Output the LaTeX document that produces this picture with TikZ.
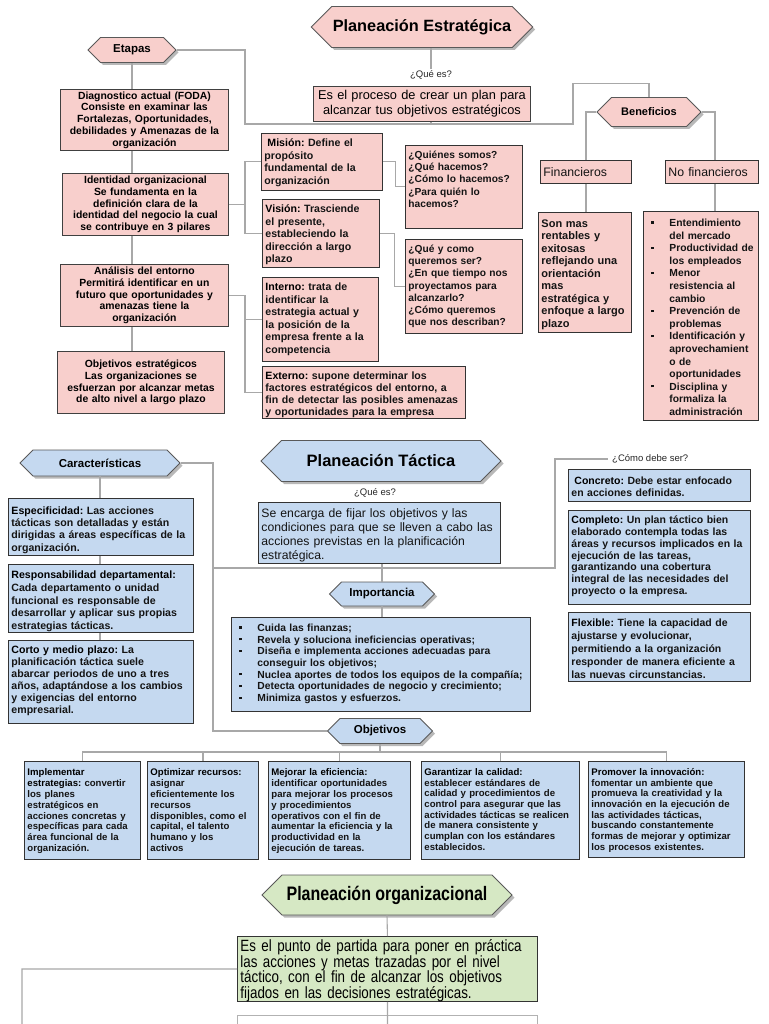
\documentclass[tikz,border=0pt]{standalone}
\usepackage{fontspec}
\setmainfont{Liberation Sans}
\newfontfamily\narrowfont[FakeStretch=0.82]{Liberation Sans}
\usetikzlibrary{shapes.symbols,shadows}
\definecolor{pinkc}{RGB}{248,207,204}
\definecolor{bluec}{RGB}{197,217,240}
\definecolor{greenc}{RGB}{214,232,196}
\definecolor{linkc}{RGB}{168,168,168}
\newcommand{\fsz}[2]{\fontsize{#1}{#2}\selectfont}
\newcommand{\bitem}{\makebox[23pt][l]{\hspace{5pt}\raisebox{2.8pt}{\rule{2.2pt}{2.2pt}}}}
\newcommand{\bcont}{\hspace*{23pt}}
\newcommand{\hdr}[1]{\textcolor{black}{#1}}
\frenchspacing
\tikzset{
  link/.style={draw=linkc, line width=1.1pt},
  hexa/.style={signal, signal to=west and east, draw=black!65, line width=0.8pt, inner sep=1pt, drop shadow={shadow xshift=2.5pt, shadow yshift=-2.5pt, fill=black!55}, font=\bfseries\fsz{11.5}{13}},
  cbox/.style={draw=black!75, line width=0.9pt, anchor=north west, align=center, inner xsep=2pt, inner ysep=1pt, text=black, font=\bfseries\fsz{10.4}{11.8}},
  lbox/.style={draw=black!80, line width=0.9pt, anchor=north west, align=left, inner xsep=3pt, inner ysep=2pt, text height=11pt, text=black!92, font=\bfseries\fsz{10.6}{12.6}},
  qlab/.style={inner sep=1pt, text=black!85, font=\fsz{9.5}{11}}
}
\begin{document}
\begin{tikzpicture}[x=1pt,y=-1pt]
\clip (0,0) rectangle (768,1024); \fill[white] (0,0) rectangle (768,1024);

\node[hexa, fill=pinkc, minimum width=216pt, minimum height=41pt, font=\bfseries\fsz{16.3}{18}] (tEst) at (422,27) {Planeación Estratégica};
\node[qlab] (qEs1) at (431,75) {¿Qué es?};
\node[cbox, fill=pinkc, text width=213pt, minimum height=35pt, font=\fsz{12.8}{15}] (defEst) at (313,86) {Es el proceso de crear un plan para\\alcanzar tus objetivos estratégicos};
\coordinate (bus1) at (245,124); \coordinate (bus2) at (573,124);

\node[hexa, fill=pinkc, minimum width=88pt, minimum height=25pt] (etapas) at (132,50) {Etapas};
\node[cbox, fill=pinkc, text width=164pt, minimum height=61pt] (diag) at (60,89) {Diagnostico actual (FODA)\\Consiste en examinar las\\Fortalezas, Oportunidades,\\debilidades y Amenazas de la\\organización};
\node[cbox, fill=pinkc, text width=162pt, minimum height=62pt] (iden) at (62,173) {Identidad organizacional\\Se fundamenta en la\\definición clara de la\\identidad del negocio la cual\\se contribuye en 3 pilares};
\node[cbox, fill=pinkc, text width=164pt, minimum height=62pt] (anal) at (60,264) {Análisis del entorno\\Permitirá identificar en un\\futuro que oportunidades y\\amenazas tiene la\\organización};
\node[cbox, fill=pinkc, text width=163pt, minimum height=62pt] (objE) at (57,351) {Objetivos estratégicos\\Las organizaciones se\\esfuerzan por alcanzar metas\\de alto nivel a largo plazo};

\node[lbox, fill=pinkc, text width=115pt, text depth=42pt] (mision) at (261,133) {\hspace*{3pt}\hdr{Misión:} Define el\\propósito\\fundamental de la\\organización};
\node[lbox, fill=pinkc, text width=111pt, text depth=53pt] (vision) at (262,199) {\hdr{Visión:} Trasciende\\el presente,\\estableciendo la\\dirección a largo\\plazo};
\node[lbox, fill=pinkc, text width=110pt, text depth=69pt] (interno) at (262,277) {\hdr{Interno:} trata de\\identificar la\\estrategia actual y\\la posición de la\\empresa frente a la\\competencia};
\node[lbox, fill=pinkc, text width=197pt, text depth=37pt, font=\bfseries\fsz{10.6}{12}] (externo) at (262,366) {\hdr{Externo:} supone determinar los\\factores estratégicos del entorno, a\\fin de detectar las posibles amenazas\\y oportunidades para la empresa};
\node[lbox, fill=pinkc, text width=111pt, text depth=68pt, font=\bfseries\fsz{10.2}{12.2}] (q1) at (405,145) {¿Quiénes somos?\\¿Qué hacemos?\\¿Cómo lo hacemos?\\¿Para quién lo\\hacemos?};
\node[lbox, fill=pinkc, text width=111pt, text depth=79pt, font=\bfseries\fsz{10.2}{12.2}] (q2) at (405,239) {¿Qué y como\\queremos ser?\\¿En que tiempo nos\\proyectamos para\\alcanzarlo?\\¿Cómo queremos\\que nos describan?};

\node[hexa, fill=pinkc, minimum width=104pt, minimum height=29pt, font=\bfseries\fsz{11}{13}] (benef) at (649,112) {Beneficios};
\node[lbox, fill=pinkc, text width=85pt, text height=14pt, text depth=5pt, font=\fsz{12.3}{14}] (fin) at (540,160) {Financieros};
\node[lbox, fill=pinkc, text width=87pt, text height=14pt, text depth=5pt, font=\fsz{12.3}{14}] (nofin) at (665,160) {No financieros};
\node[lbox, fill=pinkc, text width=87pt, text height=13pt, text depth=103pt, font=\bfseries\fsz{11}{12.5}] (sonmas) at (538,212) {Son mas\\rentables y\\exitosas\\reflejando una\\orientación\\mas\\estratégica y\\enfoque a largo\\plazo};
\node[lbox, fill=pinkc, text width=109pt, text height=13pt, text depth=192pt, font=\bfseries\fsz{10.3}{12.6}] (nofinlist) at (643,211) {\bitem Entendimiento\\\bcont del mercado\\\bitem Productividad de\\\bcont los empleados\\\bitem Menor\\\bcont resistencia al\\\bcont cambio\\\bitem Prevención de\\\bcont problemas\\\bitem Identificación y\\\bcont aprovechamient\\\bcont o de\\\bcont oportunidades\\\bitem Disciplina y\\\bcont formaliza la\\\bcont administración};

\draw[link] (etapas.east) -| (bus1) -- (bus2) |- ([yshift=14pt]benef.north) -- (benef.north);
\draw[link] (qEs1.north |- tEst.south) -- (qEs1.north); \draw[link] (qEs1 |- defEst.south) -- (qEs1 |- bus1);
\draw[link] (etapas.south) -- (etapas.south |- diag.north) (etapas.south |- diag.south) -- (etapas.south |- iden.north) (etapas.south |- iden.south) -- (etapas.south |- anal.north) (etapas.south |- anal.south) -- (etapas.south |- objE.north);
\draw[link] (iden.east) -- (iden.east -| bus1) (mision.west) -| (bus1 |- vision.west) -- (vision.west);
\draw[link] (mision.east) -- ++(13pt,0) |- (q1.west); \draw[link] (vision.east) -- ++(15pt,0) |- (q2.west);
\draw[link] (anal.east) -| (bus1 |- externo.west) -- (externo.west) (bus1 |- interno.west) -- (interno.west);
\draw[link] (benef.west) -| (fin.north) (benef.east) -| ([xshift=3pt]nofin.north);
\draw[link] (fin.south) -- (fin.south |- sonmas.north) ([xshift=3pt]nofin.south) -- ([xshift=3pt]nofin.south |- nofinlist.north);

\node[hexa, fill=bluec, minimum width=240pt, minimum height=41pt, font=\bfseries\fsz{16.5}{18}] (tTac) at (381,461) {Planeación Táctica};
\node[qlab] (qEs2) at (375,493) {¿Qué es?};
\node[lbox, fill=bluec, text width=236pt, text height=13pt, text depth=44pt, font=\fsz{12.2}{14}] (defTac) at (258,502) {Se encarga de fijar los objetivos y las\\condiciones para que se lleven a cabo las\\acciones previstas en la planificación\\estratégica.};
\node[hexa, fill=bluec, minimum width=105pt, minimum height=24pt] (imp) at (382,594) {Importancia};
\node[lbox, fill=bluec, text width=293pt, text height=12pt, text depth=78pt, font=\bfseries\fsz{10.3}{11.7}] (impList) at (231,617) {\bitem Cuida las finanzas;\\\bitem Revela y soluciona ineficiencias operativas;\\\bitem Diseña e implementa acciones adecuadas para\\\bcont conseguir los objetivos;\\\bitem Nuclea aportes de todos los equipos de la compañía;\\\bitem Detecta oportunidades de negocio y crecimiento;\\\bitem Minimiza gastos y esfuerzos.};
\node[hexa, fill=bluec, minimum width=105pt, minimum height=25pt] (objT) at (380,731) {Objetivos};

\node[hexa, fill=bluec, minimum width=160pt, minimum height=26pt] (carac) at (100,463) {Características};
\node[lbox, fill=bluec, text width=179pt, text height=14pt, text depth=39pt, font=\bfseries\fsz{10.6}{12.2}] (espec) at (8,498) {\hdr{Especificidad:} Las acciones\\tácticas son detalladas y están\\dirigidas a áreas específicas de la\\organización.};
\node[lbox, fill=bluec, text width=179pt, text height=12pt, text depth=52pt, font=\bfseries\fsz{10.6}{12.8}] (resp) at (8,564) {\hdr{Responsabilidad departamental:}\\Cada departamento o unidad\\funcional es responsable de\\desarrollar y aplicar sus propias\\estrategias tácticas.};
\node[lbox, fill=bluec, text width=179pt, text height=11pt, text depth=68pt, font=\bfseries\fsz{10.6}{12}] (corto) at (8,640) {\hdr{Corto y medio plazo:} La\\planificación táctica suele\\abarcar periodos de uno a tres\\años, adaptándose a los cambios\\y exigencias del entorno\\empresarial.};

\node[qlab, anchor=west] (qComo) at (611,459) {¿Cómo debe ser?};
\node[lbox, fill=bluec, text width=176pt, text height=13pt, text depth=15pt, font=\bfseries\fsz{10.5}{11.7}] (concreto) at (568,469) {\hspace*{3pt}\hdr{Concreto:} Debe estar enfocado\\en acciones definidas.};
\node[lbox, fill=bluec, text width=176pt, text height=11.5pt, text depth=78.5pt, font=\bfseries\fsz{10.5}{11.7}] (completo) at (568,510) {\hdr{Completo:} Un plan táctico bien\\elaborado contempla todas las\\áreas y recursos implicados en la\\ejecución de las tareas,\\garantizando una cobertura\\integral de las necesidades del\\proyecto o la empresa.};
\node[lbox, fill=bluec, text width=176pt, text height=12.5pt, text depth=52.5pt, font=\bfseries\fsz{10.5}{12.9}] (flexible) at (568,612) {\hdr{Flexible:} Tiene la capacidad de\\ajustarse y evolucionar,\\permitiendo a la organización\\responder de manera eficiente a\\las nuevas circunstancias.};

\coordinate (bus3) at (213,568); \coordinate (bus4) at (555,568); \coordinate (bus5) at (380,752);
\draw[link] (carac.east) -| (bus3) -- (bus3 |- objT.west) -- (objT.west);
\draw[link] (bus3) -- (bus4) |- ([xshift=-3pt]qComo.west);
\draw[link] (imp.north |- defTac.south) -- (imp.north) (imp.south) -- (imp.south |- impList.north);
\draw[link] (carac.south) -- (carac.south |- espec.north) (carac.south |- espec.south) -- (carac.south |- resp.north) (carac.south |- resp.south) -- (carac.south |- corto.north);

\node[lbox, fill=bluec, text width=110pt, text height=12pt, text depth=82pt, font=\bfseries\fsz{9.6}{10.9}] (impl) at (24,761) {\hdr{Implementar}\\\hdr{estrategias:} convertir\\los planes\\estratégicos en\\acciones concretas y\\específicas para cada\\área funcional de la\\organización.};
\node[lbox, fill=bluec, text width=105pt, text height=12pt, text depth=82pt, font=\bfseries\fsz{9.6}{10.9}] (optim) at (147,761) {\hdr{Optimizar recursos:}\\asignar\\eficientemente los\\recursos\\disponibles, como el\\capital, el talento\\humano y los\\activos};
\node[lbox, fill=bluec, text width=136pt, text height=12pt, text depth=82pt, font=\bfseries\fsz{9.6}{10.9}] (mejor) at (268,761) {\hdr{Mejorar la eficiencia:}\\identificar oportunidades\\para mejorar los procesos\\y procedimientos\\operativos con el fin de\\aumentar la eficiencia y la\\productividad en la\\ejecución de tareas.};
\node[lbox, fill=bluec, text width=152pt, text height=12pt, text depth=82pt, font=\bfseries\fsz{9.6}{10.7}] (garant) at (421,761) {\hdr{Garantizar la calidad:}\\establecer estándares de\\calidad y procedimientos de\\control para asegurar que las\\actividades tácticas se realicen\\de manera consistente y\\cumplan con los estándares\\establecidos.};
\node[lbox, fill=bluec, text width=150pt, text height=12pt, text depth=80pt, font=\bfseries\fsz{9.6}{10.7}] (promo) at (588,761) {\hdr{Promover la innovación:}\\fomentar un ambiente que\\promueva la creatividad y la\\innovación en la ejecución de\\las actividades tácticas,\\buscando constantemente\\formas de mejorar y optimizar\\los procesos existentes.};
\draw[link] (objT.south) -- (bus5) (impl.north) -- (impl.north |- bus5) -- (promo.north |- bus5) -- (promo.north);
\foreach \b in {optim,mejor,garant} \draw[link] (\b.north) -- (\b.north |- bus5);

\node[hexa, fill=greenc, minimum width=250pt, minimum height=40pt, font=\narrowfont\bfseries\fsz{19.5}{21}] (tOrg) at (387,895) {Planeación organizacional};
\node[lbox, fill=greenc, text width=294pt, text height=13pt, text depth=48pt, text=black, font=\narrowfont\fsz{16.3}{15.7}] (orgDef) at (237,936) {Es el punto de partida para poner en práctica\\las acciones y metas trazadas por el nivel\\táctico, con el fin de alcanzar los objetivos\\fijados en las decisiones estratégicas.};
\node[draw=black!30, line width=0.9pt, anchor=north west, minimum width=300pt, minimum height=40pt] (orgNext) at (237,1015) {};
\coordinate (orgL) at (22,1030);
\draw[link] (tOrg.south) -- (orgDef.north) (orgDef.west) -| (orgL) (orgDef.south) -- (orgDef.south |- orgL);
\end{tikzpicture}
\end{document}
